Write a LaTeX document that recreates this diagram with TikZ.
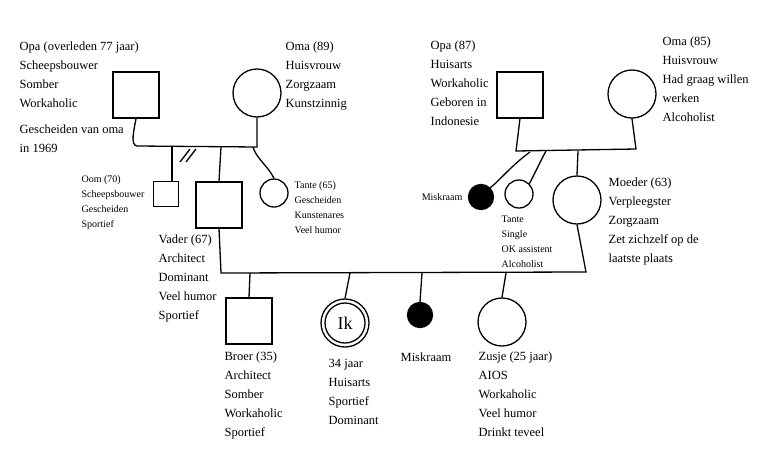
\documentclass[tikz,border=0pt]{standalone}
\usepackage{fontspec}
\setmainfont{Liberation Serif}
\begin{document}
\begin{tikzpicture}[x=1pt,y=-1pt,line width=1.3pt,
  big/.style={align=left,anchor=north west,inner sep=0pt,font=\fontsize{12.5}{19}\selectfont},
  sm/.style={align=left,anchor=north west,inner sep=0pt,font=\fontsize{10}{15}\selectfont},
  m/.style={draw,minimum size=46pt,inner sep=0pt},
  f/.style={draw,circle,minimum size=48pt,inner sep=0pt}]
\useasboundingbox (0,0) rectangle (768,461);
% generation 1 left
\node[m] (opa1) at (136,95) {};
\node[f] (oma1) at (257,93) {};
\coordinate (m1l) at (137,146); \coordinate (m1r) at (257,147);
\draw (opa1.south) .. controls (134,130) and (130,145) .. (m1l) -- (m1r) -- (oma1.south);
\draw (180,162) -- (190,149) (186,162) -- (196,149);
\node[draw,minimum size=25pt,inner sep=0pt,line width=0.8pt] (oom) at (166,194) {};
\node[m] (vader) at (219,205) {};
\node[draw,circle,minimum size=28pt,inner sep=0pt] (tante1) at (274,193) {};
\draw (172,147) -- (172,181);
\draw (221,147) -- (vader.north);
\draw (253,147) .. controls (256,158) and (268,166) .. (tante1.north);
% generation 1 right
\node[m] (opa2) at (520,95) {};
\node[f] (oma2) at (632,94) {};
\coordinate (m2l) at (516,151); \coordinate (m2r) at (636,149);
\draw (opa2.south) -- (m2l) -- (m2r) -- (oma2.south);
\node[draw,circle,fill=black,minimum size=25pt,inner sep=0pt] (mis2) at (481,197) {};
\node[draw,circle,minimum size=28pt,inner sep=0pt] (tante2) at (519,194) {};
\node[f] (moeder) at (577,200) {};
\draw (530,152) .. controls (512,165) and (500,180) .. (mis2.north east);
\draw (546,151) .. controls (540,162) and (534,175) .. (tante2.north east);
\draw (578,151) -- (moeder.north);
% parents union
\coordinate (pl) at (221,273); \coordinate (pr) at (586,272);
\draw (vader.south) -- (pl) -- (pr) -- (moeder.south);
% children
\node[m] (broer) at (249,321) {};
\node[f] (ik) at (345,323) {};
\node[draw,circle,minimum size=40pt,inner sep=0pt] at (ik) {\fontsize{18}{18}\selectfont Ik};
\node[draw,circle,fill=black,minimum size=25pt,inner sep=0pt] (mis3) at (420,315) {};
\node[f] (zusje) at (502,322) {};
\draw (250,273) -- (broer.north);
\draw (350,273) -- (ik.north);
\draw (422,273) -- (mis3.north);
\draw (506,273) -- (zusje.north);
% texts
\node[big] at (19,41) {Opa (overleden 77 jaar)\\Scheepsbouwer\\Somber\\Workaholic};
\node[big] at (285,41) {Oma (89)\\Huisvrouw\\Zorgzaam\\Kunstzinnig};
\node[big] at (19,124) {Gescheiden van oma\\in 1969};
\node[sm] at (81,175) {Oom (70)\\Scheepsbouwer\\Gescheiden\\Sportief};
\node[sm] at (294,181) {Tante (65)\\Gescheiden\\Kunstenares\\Veel humor};
\node[big] at (158,234) {Vader (67)\\Architect\\Dominant\\Veel humor\\Sportief};
\node[big] at (430,40) {Opa (87)\\Huisarts\\Workaholic\\Geboren in\\Indonesie};
\node[big] at (662,36) {Oma (85)\\Huisvrouw\\Had graag willen\\werken\\Alcoholist};
\node[sm,anchor=east] at (463,197) {Miskraam};
\node[sm] at (501,215) {Tante\\Single\\OK assistent\\Alcoholist};
\node[big] at (608,177) {Moeder (63)\\Verpleegster\\Zorgzaam\\Zet zichzelf op de\\laatste plaats};
\node[big] at (224,351) {Broer (35)\\Architect\\Somber\\Workaholic\\Sportief};
\node[big] at (328,359) {34 jaar\\Huisarts\\Sportief\\Dominant};
\node[big] at (400,352) {Miskraam};
\node[big] at (478,351) {Zusje (25 jaar)\\AIOS\\Workaholic\\Veel humor\\Drinkt teveel};
\end{tikzpicture}
\end{document}
